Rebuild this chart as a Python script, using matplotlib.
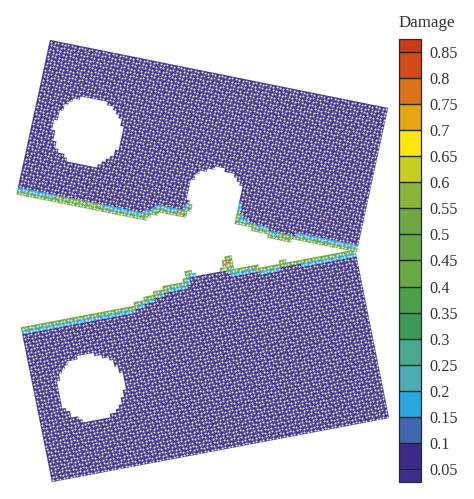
import numpy as np
import matplotlib
matplotlib.use("Agg")
import matplotlib.pyplot as plt
from matplotlib.collections import PolyCollection
from matplotlib.colors import ListedColormap, BoundaryNorm

plt.rcParams['font.family'] = ['Liberation Serif', 'DejaVu Serif']

# colour scale
levels = [0.025, 0.05, 0.1, 0.15, 0.2, 0.25, 0.3, 0.35, 0.4, 0.45, 0.5, 0.55,
          0.6, 0.65, 0.7, 0.75, 0.8, 0.85, 0.875]
tick_values = levels[1:-1]
tick_labels = ['0.05', '0.1', '0.15', '0.2', '0.25', '0.3', '0.35', '0.4', '0.45',
               '0.5', '0.55', '0.6', '0.65', '0.7', '0.75', '0.8', '0.85']
band_colors = ['#3f2f8c', '#3b2b87', '#4068ae', '#2aa7df', '#4eaab5', '#4aa890',
               '#3c9a58', '#4ca04a', '#6aa842', '#66a645', '#6fa843', '#8ab43c',
               '#c5cf20', '#fde610', '#e8a512', '#dd7118', '#d34a16', '#c93a18']

# plate outlines, in picture pixels (the v ends run past the tear, the edge lists cut them)
upper_corner = (50, 40)
upper_u_end = (388, 108)
upper_v_end = (12, 215)
lower_corner = (52, 482)
lower_u_end = (389, 418)
lower_v_end = (14, 293)

# holes: x, y, radius
upper_hole = (88, 132, 34.5)
notch_hole = (215, 195, 27)
lower_hole = (91, 388, 33.5)

# torn edges; flag 1 = segment leads to a damaged band
upper_edge_x = [17, 60, 100, 135, 145, 163, 172, 185, 191, 192, 193, 234, 235, 236, 243, 260, 273, 300, 330, 355]
upper_edge_y = [194, 202, 210, 219, 219, 212, 214, 216, 210, 197, 190, 190, 208, 223, 226, 233, 238, 242, 247, 251]
upper_edge_flag = [1, 1, 1, 1, 1, 1, 1, 1, 0, 0, 0, 0, 1, 1, 1, 1, 1, 1, 1]
lower_edge_x = [21, 60, 100, 130, 147, 160, 183, 187, 192, 196, 217, 222, 224, 231, 234, 250, 270, 280, 320, 355]
lower_edge_y = [327, 319, 313, 306, 297, 289, 281, 270, 270, 275, 272, 266, 257, 257, 269, 266, 267, 262, 255, 249]
lower_edge_flag = [1, 1, 1, 1, 1, 1, 1, 1, 0, 0, 0, 1, 1, 1, 1, 1, 1, 1, 1]

# damage
base_damage = 0.04
inner_damage = 0.17
edge_damage = 0.47
peak_x = [227, 227, 226]
peak_y = [260, 264, 268]
peak_damage = [0.82, 0.72, 0.6]

pitch = 3.5
edge_band = 4.2
inner_band = 6.8


def segment_dist(px, py, xs, ys, flags):
    best = np.full(px.shape, 1e9)
    for i in range(len(flags)):
        if not flags[i]:
            continue
        ax0, ay0, bx, by = xs[i], ys[i], xs[i + 1], ys[i + 1]
        dx, dy = bx - ax0, by - ay0
        t = ((px - ax0) * dx + (py - ay0) * dy) / (dx * dx + dy * dy)
        t = np.clip(t, 0, 1)
        best = np.minimum(best, np.hypot(px - ax0 - t * dx, py - ay0 - t * dy))
    return best


def build_plate(corner, u_end, v_end, holes, edge_x, edge_y, flags, above):
    corner = np.array(corner, float)
    u = np.array(u_end, float) - corner
    v = np.array(v_end, float) - corner
    nu = int(round(np.linalg.norm(u) / pitch))
    nv = int(round(np.linalg.norm(v) / pitch))
    u = u / nu
    v = v / nv
    i, j = np.meshgrid(np.arange(nu), np.arange(nv), indexing='ij')
    i, j = i.ravel(), j.ravel()
    cx = corner[0] + (i + 0.5) * u[0] + (j + 0.5) * v[0]
    cy = corner[1] + (i + 0.5) * u[1] + (j + 0.5) * v[1]

    edge = np.interp(cx, edge_x, edge_y)
    keep = cy < edge if above else cy > edge
    for hx, hy, hr in holes:
        keep &= np.hypot(cx - hx, cy - hy) > hr
    cx, cy = cx[keep], cy[keep]

    dist = segment_dist(cx, cy, edge_x, edge_y, flags)
    damage = np.full(cx.shape, base_damage)
    damage[dist < inner_band] = inner_damage
    damage[dist < edge_band] = edge_damage

    half_u, half_v = u / 2, v / 2
    centres = np.column_stack([cx, cy])
    quads = np.stack([centres - half_u - half_v, centres + half_u - half_v,
                      centres + half_u + half_v, centres - half_u + half_v], axis=1)
    return cx, cy, damage, quads


fig = plt.figure(figsize=(4.74, 4.99), dpi=100)
ax = fig.add_axes([0, 0, 1, 1])
ax.set_xlim(0, 474)
ax.set_ylim(499, 0)
ax.axis('off')

cmap = ListedColormap(band_colors)
norm = BoundaryNorm(levels, cmap.N)

x1, y1, d1, q1 = build_plate(upper_corner, upper_u_end, upper_v_end, [upper_hole, notch_hole],
                             upper_edge_x, upper_edge_y, upper_edge_flag, True)
x2, y2, d2, q2 = build_plate(lower_corner, lower_u_end, lower_v_end, [lower_hole],
                             lower_edge_x, lower_edge_y, lower_edge_flag, False)
# the few worst elements at the tear peak
for px, py, pd in zip(peak_x, peak_y, peak_damage):
    d2[np.argmin(np.hypot(x2 - px, y2 - py))] = pd

cells = PolyCollection(np.concatenate([q1, q2]), array=np.concatenate([d1, d2]),
                       cmap=cmap, norm=norm, edgecolors='face', linewidths=0.1)
cells.set_snap(False)
ax.add_collection(cells)
dots = ax.scatter(np.concatenate([x1, x2]), np.concatenate([y1, y2]), s=2.0, c='white',
                  marker='o', linewidths=0, alpha=0.9)
dots.set_snap(False)

# legend
cax = fig.add_axes([399 / 474, 1 - 482 / 499, 22 / 474, 443 / 499])
cbar = fig.colorbar(cells, cax=cax, spacing='proportional', ticks=tick_values, drawedges=True)
cbar.ax.set_yticklabels(tick_labels, fontsize=11.7, color='#333333')
cbar.ax.tick_params(which='both', length=0, pad=5.8)
cbar.ax.minorticks_off()
cbar.dividers.set_color('#1d2b1d')
cbar.dividers.set_linewidth(1.0)
cbar.outline.set_edgecolor('#2a2a3a')
cbar.outline.set_linewidth(0.9)
fig.text(427 / 474, 1 - 23 / 499, 'Damage', fontsize=12.2, color='#333333', ha='center', va='center')

fig.savefig('out.png', dpi=100)
